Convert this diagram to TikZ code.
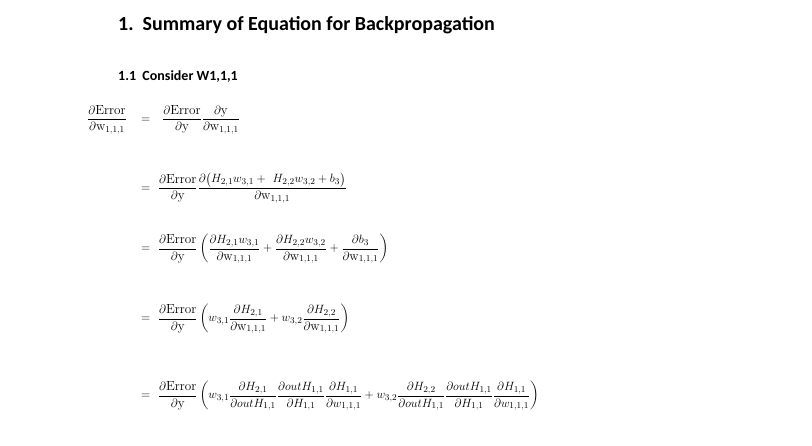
\documentclass[tikz,border=0pt]{standalone}
\usepackage{amsmath}
\usepackage{fontspec}
\newfontfamily\calib{Carlito}
\tikzset{eq/.style={anchor=west,inner sep=0pt,font=\fontsize{13.2}{15}\selectfont}}
\newcommand{\dd}{\partial}
\begin{document}
\begin{tikzpicture}[x=1pt,y=-1pt]
\useasboundingbox (0,0) rectangle (812,445);
\node[anchor=west,inner sep=0pt,font=\calib\bfseries\fontsize{20}{24}\selectfont] (title) at (118,25) {1.\ \ Summary of Equation for Backpropagation};
\node[anchor=west,inner sep=0pt,font=\calib\bfseries\fontsize{14}{16}\selectfont] (sub) at (118,77) {1.1\ \ Consider W1,1,1};
\node[eq] (lhs) at (87,120) {$\displaystyle\frac{\dd\mathrm{Error}}{\dd\mathrm{w}_{1,1,1}}$};
\node[eq] (r1) at (141,120) {$\displaystyle=\ \ \frac{\dd\mathrm{Error}}{\dd\mathrm{y}}\frac{\dd\mathrm{y}}{\dd\mathrm{w}_{1,1,1}}$};
\node[eq] (r2) at (141,188) {$\displaystyle=\ \frac{\dd\mathrm{Error}}{\dd\mathrm{y}}\frac{\dd\bigl(H_{2,1}w_{3,1}+\ H_{2,2}w_{3,2}+b_3\bigr)}{\dd\mathrm{w}_{1,1,1}}$};
\node[eq] (r3) at (141,249) {$\displaystyle=\ \frac{\dd\mathrm{Error}}{\dd\mathrm{y}}\left(\frac{\dd H_{2,1}w_{3,1}}{\dd\mathrm{w}_{1,1,1}}+\frac{\dd H_{2,2}w_{3,2}}{\dd\mathrm{w}_{1,1,1}}+\frac{\dd b_3}{\dd\mathrm{w}_{1,1,1}}\right)$};
\node[eq] (r4) at (141,319) {$\displaystyle=\ \frac{\dd\mathrm{Error}}{\dd\mathrm{y}}\left(w_{3,1}\frac{\dd H_{2,1}}{\dd\mathrm{w}_{1,1,1}}+w_{3,2}\frac{\dd H_{2,2}}{\dd\mathrm{w}_{1,1,1}}\right)$};
\node[eq] (r5) at (141,396) {$\displaystyle=\ \frac{\dd\mathrm{Error}}{\dd\mathrm{y}}\left(w_{3,1}\frac{\dd H_{2,1}}{\dd out H_{1,1}}\frac{\dd out H_{1,1}}{\dd H_{1,1}}\frac{\dd H_{1,1}}{\dd w_{1,1,1}}+w_{3,2}\frac{\dd H_{2,2}}{\dd out H_{1,1}}\frac{\dd out H_{1,1}}{\dd H_{1,1}}\frac{\dd H_{1,1}}{\dd w_{1,1,1}}\right)$};
\end{tikzpicture}
\end{document}
